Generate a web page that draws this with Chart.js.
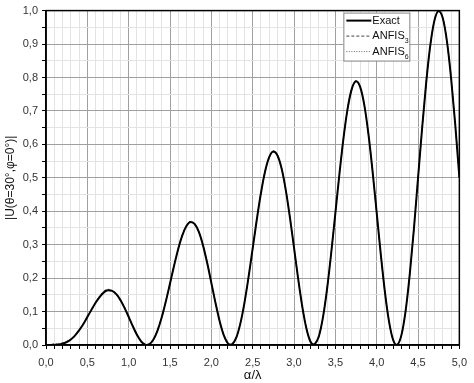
<!DOCTYPE html>
<html><head><meta charset="utf-8">
<script src="https://cdn.jsdelivr.net/npm/chart.js@4.4.1/dist/chart.umd.min.js"></script>
<style>html,body{margin:0;padding:0;background:#fff}#wrap{width:474px;height:383px}</style>
</head><body><div id="wrap"><canvas id="c" width="474" height="383"></canvas></div>
<script>
// a/λ sample positions
const xValues = [
  0,0.05,0.1,0.15,0.2,0.25,0.3,0.35,0.4,0.45,
  0.5,0.55,0.6,0.65,0.7,0.75,0.8,0.85,0.9,0.95,
  1,1.05,1.1,1.15,1.2,1.25,1.3,1.35,1.4,1.45,
  1.5,1.55,1.6,1.65,1.7,1.75,1.8,1.85,1.9,1.95,
  2,2.05,2.1,2.15,2.2,2.25,2.3,2.35,2.4,2.45,
  2.5,2.55,2.6,2.65,2.7,2.75,2.8,2.85,2.9,2.95,
  3,3.05,3.1,3.15,3.2,3.25,3.3,3.35,3.4,3.45,
  3.5,3.55,3.6,3.65,3.7,3.75,3.8,3.85,3.9,3.95,
  4,4.05,4.1,4.15,4.2,4.25,4.3,4.35,4.4,4.45,
  4.5,4.55,4.6,4.65,4.7,4.75,4.8,4.85,4.9,4.95,
  5
];
const exact = [
  0,0,0.0003,0.0012,0.0037,0.0086,0.0165,0.0282,0.0435,0.0622,
  0.0834,0.1056,0.1263,0.1441,0.1573,0.1634,0.1620,0.1521,0.1348,0.1112,
  0.0841,0.0560,0.0305,0.0111,0.0009,0.0024,0.0167,0.0439,0.0827,0.1306,
  0.1839,0.2379,0.2879,0.3287,0.3565,0.3679,0.3615,0.3373,0.2972,0.2450,
  0.1859,0.1260,0.0718,0.0297,0.0050,0.0014,0.0210,0.0632,0.1253,0.2027,
  0.2887,0.3753,0.4545,0.5188,0.5616,0.5783,0.5666,0.5276,0.4640,0.3824,
  0.2911,0.1983,0.1148,0.0494,0.0097,0.0023,0.0256,0.0828,0.1681,0.2751,
  0.3937,0.5128,0.6216,0.7091,0.7668,0.7886,0.7718,0.7179,0.6311,0.5201,
  0.3959,0.2703,0.1577,0.0693,0.0146,0.0007,0.0303,0.1023,0.2113,0.3462,
  0.4986,0.6497,0.7877,0.8987,0.9717,0.9989,0.9768,0.9078,0.7983,0.6602,
  0.5010
];
// positions where the exact curve touches zero
const exactZeroX = [1.2197, 2.2331, 3.2383, 4.2411];
const anfis3 = [
  0.002,0.001,0.004,0.002,0.007,0.010,0.018,0.026,0.047,0.060,
  0.088,0.103,0.129,0.142,0.161,0.166,0.160,0.155,0.132,0.113,
  0.082,0.058,0.029,0.013,0.002,0.004,0.015,0.046,0.081,0.132,
  0.182,0.240,0.286,0.331,0.354,0.371,0.359,0.339,0.295,0.247,
  0.184,0.128,0.070,0.031,0.004,0.003,0.020,0.065,0.124,0.204,
  0.287,0.377,0.453,0.521,0.559,0.581,0.564,0.529,0.462,0.384,
  0.290,0.200,0.113,0.051,0.008,0.004,0.024,0.084,0.167,0.277,
  0.392,0.515,0.620,0.711,0.765,0.791,0.769,0.720,0.629,0.522,
  0.394,0.272,0.156,0.071,0.013,0.002,0.032,0.101,0.213,0.345,
  0.500,0.648,0.789,0.897,0.973,0.996,0.979,0.906,0.800,0.659,
  0.502
];
const anfis6 = [
  0.000,0.000,0.001,0.003,0.004,0.011,0.015,0.030,0.042,0.065,
  0.081,0.108,0.125,0.147,0.155,0.167,0.163,0.150,0.137,0.110,
  0.086,0.054,0.032,0.010,0.001,0.002,0.018,0.042,0.085,0.129,
  0.186,0.236,0.290,0.327,0.358,0.366,0.363,0.336,0.299,0.244,
  0.188,0.125,0.073,0.028,0.006,0.001,0.022,0.062,0.127,0.201,
  0.290,0.374,0.456,0.517,0.563,0.576,0.568,0.526,0.466,0.381,
  0.292,0.197,0.116,0.048,0.011,0.002,0.027,0.082,0.170,0.274,
  0.395,0.512,0.623,0.708,0.768,0.786,0.773,0.717,0.632,0.519,
  0.397,0.269,0.159,0.068,0.016,0.001,0.029,0.104,0.210,0.348,
  0.497,0.651,0.786,0.900,0.970,1.000,0.975,0.909,0.797,0.662,
  0.500
];
const seriesNames = ['Exact', 'ANFIS', 'ANFIS'];
const seriesSubs = ['', '3', '6'];
const xTitle = 'α/λ';
const yTitle = '|U(θ=30°,φ=0°)|';
const xRange = [0, 5], xMajor = 0.5, xMinor = 0.1;
const yRange = [0, 1], yMajor = 0.1, yMinor = 0.05;

const FONT = "'Liberation Sans', Arial, sans-serif";
const isMajor = (v, step) => Math.abs(v / step - Math.round(v / step)) < 1e-6;
const fmt = v => v.toFixed(1).replace('.', ',');
const pts = (ys) => xValues.map((x, i) => ({x, y: ys[i]}));
const exactPts = pts(exact).concat(exactZeroX.map(x => ({x, y: 0}))).sort((a, b) => a.x - b.x);

const framePlugin = {
  id: 'frame',
  afterDatasetsDraw(chart) {
    const {ctx, chartArea: a} = chart;
    ctx.save();
    ctx.strokeStyle = '#000';
    ctx.lineWidth = 1.5;
    ctx.strokeRect(a.left, a.top, a.right - a.left, a.bottom - a.top);
    ctx.restore();
  }
};

const legendPlugin = {
  id: 'customLegend',
  afterDraw(chart) {
    const {ctx, chartArea: a} = chart;
    const bx = a.right - 116, by = a.top + 2, bw = 66, bh = 48;
    ctx.save();
    ctx.fillStyle = '#fff';
    ctx.fillRect(bx, by, bw, bh);
    ctx.strokeStyle = '#888';
    ctx.lineWidth = 1;
    ctx.strokeRect(bx + 0.5, by + 0.5, bw, bh);
    const styles = [
      {c: '#000', w: 2, d: []},
      {c: '#444', w: 1, d: [3, 2]},
      {c: '#666', w: 1, d: [1, 1.5]}
    ];
    seriesNames.forEach((name, i) => {
      const y = by + 8 + i * 15.5;
      ctx.beginPath();
      ctx.setLineDash(styles[i].d);
      ctx.strokeStyle = styles[i].c;
      ctx.lineWidth = styles[i].w;
      ctx.moveTo(bx + 3, y);
      ctx.lineTo(bx + 28, y);
      ctx.stroke();
      ctx.setLineDash([]);
      ctx.fillStyle = '#111';
      ctx.font = '11px ' + FONT;
      ctx.textBaseline = 'middle';
      ctx.textAlign = 'left';
      ctx.fillText(name, bx + 29, y);
      if (seriesSubs[i]) {
        const w = ctx.measureText(name).width;
        ctx.font = '7px ' + FONT;
        ctx.fillText(seriesSubs[i], bx + 29 + w, y + 5);
      }
    });
    ctx.restore();
  }
};

new Chart(document.getElementById('c'), {
  type: 'line',
  data: {
    datasets: [
      {label: 'Exact', data: exactPts, borderColor: '#000', borderWidth: 2,
       pointRadius: 0, cubicInterpolationMode: 'monotone', fill: false},
      {label: 'ANFIS3', data: pts(anfis3), borderColor: '#444', borderWidth: 1,
       borderDash: [3, 2], pointRadius: 0, cubicInterpolationMode: 'monotone', fill: false},
      {label: 'ANFIS6', data: pts(anfis6), borderColor: '#666', borderWidth: 1,
       borderDash: [1, 1.5], pointRadius: 0, cubicInterpolationMode: 'monotone', fill: false}
    ]
  },
  options: {
    responsive: false,
    animation: false,
    devicePixelRatio: 1,
    layout: {padding: {top: 7, right: 9, left: 0, bottom: 0}},
    plugins: {legend: {display: false}, tooltip: {enabled: false}},
    scales: {
      x: {
        type: 'linear', min: xRange[0], max: xRange[1],
        afterFit: s => { s.height = 38; },
        ticks: {
          stepSize: xMinor, autoSkip: false, maxTicksLimit: 1000, maxRotation: 0,
          callback: v => isMajor(v, xMajor) ? fmt(v) : '',
          font: {family: FONT, size: 11}, color: '#333', padding: 7
        },
        grid: {
          color: c => (c.tick && isMajor(c.tick.value, xMajor)) ? '#a0a0a0' : '#e3e3e3',
          lineWidth: 1, tickColor: '#000', tickLength: 4
        },
        border: {color: '#000', width: 1.5},
        title: {display: true, text: xTitle, font: {family: FONT, size: 13}, color: '#111',
                padding: {top: 0, bottom: 0}}
      },
      y: {
        type: 'linear', min: yRange[0], max: yRange[1],
        afterFit: s => { s.width = 46; },
        ticks: {
          stepSize: yMinor, autoSkip: false, maxTicksLimit: 1000,
          callback: v => isMajor(v, yMajor) ? fmt(v) : '',
          font: {family: FONT, size: 11}, color: '#333', padding: 4
        },
        grid: {
          color: c => (c.tick && isMajor(c.tick.value, yMajor)) ? '#a0a0a0' : '#e3e3e3',
          lineWidth: 1, tickColor: '#000', tickLength: 4
        },
        border: {color: '#000', width: 1.5},
        title: {display: true, text: yTitle, font: {family: FONT, size: 12}, color: '#111',
                padding: {top: 3, bottom: 0}}
      }
    }
  },
  plugins: [framePlugin, legendPlugin]
});
</script>
</body></html>
